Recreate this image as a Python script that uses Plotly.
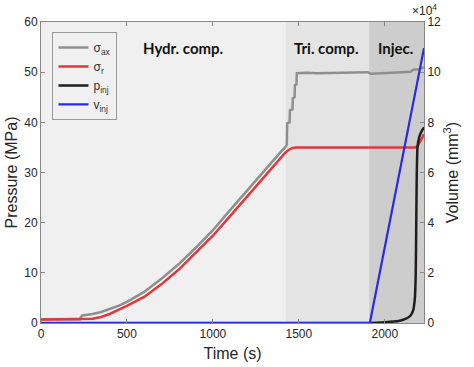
import plotly.graph_objects as go

# ---- data ----
t_ax = [0, 228, 232, 240, 260, 300, 350, 400, 450, 500, 600, 700, 800, 900, 1000,
        1100, 1200, 1300, 1400, 1420, 1430, 1432, 1446, 1448, 1463, 1465, 1475, 1477,
        1486, 1488, 1550, 1600, 1700, 1800, 1900, 1920, 2000, 2100, 2150, 2165, 2200, 2228]
sigma_ax = [0.7, 0.7, 1.2, 1.5, 1.6, 1.8, 2.2, 2.8, 3.4, 4.2, 6.2, 8.8, 11.7, 15.0, 18.5,
            22.5, 26.5, 30.5, 34.3, 35.0, 35.5, 39.8, 40.0, 42.4, 42.6, 44.8, 45.0, 47.4,
            47.6, 49.8, 49.9, 49.8, 49.9, 50.0, 50.0, 49.7, 49.9, 50.0, 50.1, 50.5, 50.6, 51.0]

t_r = [0, 250, 300, 350, 400, 450, 500, 600, 700, 800, 900, 1000, 1100, 1200, 1300,
       1400, 1420, 1440, 1460, 1480, 1500, 1700, 1900, 2180, 2190, 2200, 2210, 2228]
sigma_r = [0.7, 0.7, 0.85, 1.2, 1.8, 2.6, 3.4, 5.2, 7.7, 10.6, 13.9, 17.4, 21.3, 25.3, 29.3,
           33.1, 33.9, 34.5, 34.85, 34.97, 35.0, 35.0, 35.0, 35.0, 35.2, 35.7, 36.4, 37.6]

t_p = [0, 1913, 2000, 2080, 2120, 2150, 2165, 2175, 2180, 2183, 2186, 2190, 2200, 2215, 2228]
p_inj = [0, 0, 0.15, 0.4, 0.8, 1.5, 2.5, 5.0, 10.0, 20.0, 30.0, 35.0, 37.0, 38.3, 39.0]

t_v = [0, 1913, 2228]
v_inj = [0, 0, 109600]

phases = ["Hydr. comp.", "Tri. comp.", "Injec."]
phase_start = [0, 1424, 1909]
phase_end = [1424, 1909, 2228]
phase_color = ["#f0f0f0", "#e4e4e4", "#cdcdcd"]
phase_label_x = [825, 1660, 2065]

y_ticks = [0, 10, 20, 30, 40, 50, 60]
x_ticks = [0, 500, 1000, 1500, 2000]
v_ticks = [0, 20000, 40000, 60000, 80000, 100000, 120000]
v_ticktext = ["0", "2", "4", "6", "8", "10", "12"]

fig = go.Figure()
fig.add_trace(go.Scatter(x=t_ax, y=sigma_ax, mode="lines", name="σ<sub>ax</sub>",
                         line=dict(color="#8f8f8f", width=2.5)))
fig.add_trace(go.Scatter(x=t_r, y=sigma_r, mode="lines", name="σ<sub>r</sub>",
                         line=dict(color="#e0383c", width=2.5)))
fig.add_trace(go.Scatter(x=t_p, y=p_inj, mode="lines", name="p<sub>inj</sub>",
                         line=dict(color="#1e1e1e", width=2.5, shape="spline", smoothing=0.3)))
fig.add_trace(go.Scatter(x=t_v, y=v_inj, mode="lines", name="v<sub>inj</sub>", yaxis="y2",
                         line=dict(color="#2a2ae0", width=2.2)))

for s, e, c in zip(phase_start, phase_end, phase_color):
    fig.add_shape(type="rect", xref="x", yref="paper", x0=s, x1=e, y0=0, y1=1,
                  fillcolor=c, line_width=0, layer="below")

for name, xl in zip(phases, phase_label_x):
    fig.add_annotation(x=xl, y=54.8, xref="x", yref="y", text="<b>" + name + "</b>",
                       showarrow=False, font=dict(family="Lato", size=15, color="#111"))

fig.add_annotation(x=1.0, y=1.0, xref="paper", yref="paper", xanchor="left", yanchor="bottom",
                   xshift=-14, yshift=2, text="×10<sup>4</sup>", showarrow=False,
                   font=dict(family="Liberation Sans", size=12, color="#262626"))

axis_common = dict(showgrid=False, zeroline=False, ticks="inside", ticklen=4,
                   tickcolor="#888", linecolor="#888", linewidth=1, showline=True,
                   automargin=False,
                   tickfont=dict(family="Liberation Sans", size=12, color="#262626"))

fig.update_layout(
    width=474, height=367,
    margin=dict(l=41, r=50, t=22, b=44),
    paper_bgcolor="white", plot_bgcolor="#f0f0f0",
    font=dict(family="Liberation Sans", color="#262626"),
    xaxis=dict(range=[0, 2228], tickvals=x_ticks, mirror="ticks",
               title=dict(text="Time (s)", font=dict(size=16), standoff=7), **axis_common),
    yaxis=dict(range=[0, 60], tickvals=y_ticks,
               title=dict(text="Pressure (MPa)", font=dict(size=16), standoff=2), **axis_common),
    yaxis2=dict(range=[0, 120000], tickvals=v_ticks, ticktext=v_ticktext, overlaying="y",
                side="right",
                title=dict(text="Volume (mm<sup>3</sup>)", font=dict(size=16), standoff=6),
                **axis_common),
    legend=dict(x=0.03, y=0.967, xanchor="left", yanchor="top", bgcolor="#f0f0f0",
                bordercolor="#999", borderwidth=1,
                font=dict(family="Liberation Sans", size=12, color="#333"),
                tracegroupgap=0, itemwidth=30),
    showlegend=True,
)

fig.write_html("out.html", config={"displayModeBar": False},
               post_script="document.body.style.margin='0';")
